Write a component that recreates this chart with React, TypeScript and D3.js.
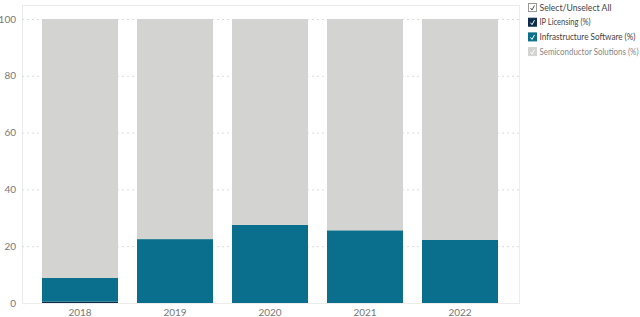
import React from "react";
import * as d3 from "d3";

const years = ["2018", "2019", "2020", "2021", "2022"];
const ipLicensing = [0.5, 0, 0, 0, 0];
const infraSoftware = [8.3, 22.5, 27.5, 25.6, 22.2];
const semiSolutions = [91.2, 77.5, 72.5, 74.4, 77.8];
const yTicks = [0, 20, 40, 60, 80, 100];
const seriesNames = ["IP Licensing (%)", "Infrastructure Software (%)", "Semiconductor Solutions (%)"];
const seriesColors = ["#0c2c4c", "#0a6f8c", "#d3d3d1"];

export default function App() {
  const W = 640, H = 317;
  const frame = { left: 22, right: 519, top: 5, bottom: 303 };
  const x = d3.scaleBand<string>().domain(years).range([32.5, 507.5]).paddingInner(0.2).paddingOuter(0.1);
  const y = d3.scaleLinear().domain([0, 100]).range([303, 19]);
  const stackData = years.map((yr, i) => ({ year: yr, a: ipLicensing[i], b: infraSoftware[i], c: semiSolutions[i] }));
  const stack = d3.stack<any>().keys(["a", "b", "c"])(stackData);
  const font = "Lato, 'Open Sans', sans-serif";
  const legendWidths = [72, 51, 96, 99];
  return (
    <div style={{ position: "absolute", left: 0, top: 0 }}>
      <svg width={W} height={H} style={{ display: "block", fontFamily: font }}>
        <rect x={0} y={0} width={W} height={H} fill="#fff" />
        <rect x={frame.left + 0.5} y={frame.top + 0.5} width={frame.right - frame.left} height={frame.bottom - frame.top} fill="none" stroke="#ececec" />
        {yTicks.map((t) => (
          <g key={t}>
            {t > 0 && (
              <line x1={frame.left} x2={frame.right} y1={y(t) + 0.5} y2={y(t) + 0.5} stroke="#dcdcdc" strokeDasharray="2,3" />
            )}
            <text x={16} y={y(t)} dy="0.35em" textAnchor="end" fontSize={10} fill="#777">{t}</text>
          </g>
        ))}
        {stack.map((s, si) => (
          <g key={si} fill={seriesColors[si]}>
            {s.map((d, i) => {
              const h = y(d[0]) - y(d[1]);
              if (h <= 0) return null;
              return <rect key={i} x={x(years[i])!} width={x.bandwidth()} y={y(d[1])} height={h} />;
            })}
          </g>
        ))}
        {years.map((yr) => (
          <text key={yr} x={x(yr)! + x.bandwidth() / 2} y={316} textAnchor="middle" fontSize={10} fill="#777">{yr}</text>
        ))}
        <g>
          {["Select/Unselect All", ...seriesNames].map((name, i) => {
            const cy = 7.5 + i * 14.7;
            const isAll = i === 0;
            const fill = isAll ? "#fff" : seriesColors[i - 1];
            return (
              <g key={name} transform={`translate(528,${cy})`}>
                <rect x={0.5} y={-4} width={8} height={8} fill={fill} stroke={isAll ? "#999" : fill} />
                <path d="M2.5,0.5 L4,2.5 L6.5,-2" fill="none" stroke={isAll ? "#555" : "#fff"} strokeWidth={1} />
                <text x={11.5} y={0} dy="0.35em" fontSize={9} fill={i === 3 ? "#888" : "#444"} textLength={legendWidths[i]} lengthAdjust="spacingAndGlyphs">{name}</text>
              </g>
            );
          })}
        </g>
      </svg>
    </div>
  );
}
